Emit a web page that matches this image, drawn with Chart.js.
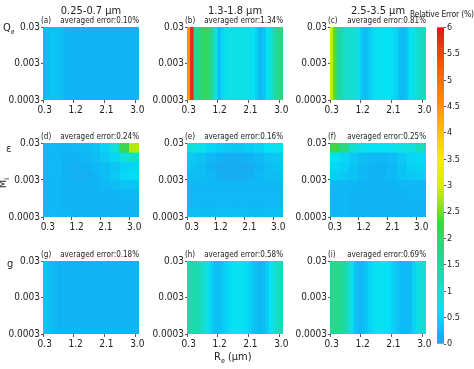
<!DOCTYPE html>
<html>
<head>
<meta charset="utf-8">
<script src="https://cdn.jsdelivr.net/npm/chart.js@4.4.1/dist/chart.umd.min.js"></script>
<style>
  body { margin: 0; background: #fff; }
  #wrap { position: relative; width: 474px; height: 369px; overflow: hidden;
    font-family: "Liberation Sans Narrow", "DejaVu Sans Condensed", sans-serif; color: #222; }
  #wrap canvas { position: absolute; }
  .txt { position: absolute; white-space: nowrap; line-height: 1; }
</style>
</head>
<body>
<div id="wrap"></div>
<script>
// x categories (R_e, um)
const reFine = ["0.3","0.4","0.5","0.6","0.7","0.8","0.9","1.0","1.1","1.2","1.3","1.4","1.5","1.6",
  "1.7","1.8","1.9","2.0","2.1","2.2","2.3","2.4","2.5","2.6","2.7","2.8","2.9","3.0"];
const reCoarse = ["0.3","0.6","0.9","1.2","1.5","1.8","2.1","2.4","2.7","3.0"];
const reTicks = ["0.3", "1.2", "2.1", "3.0"];
const miTicks = [0.0003, 0.003, 0.03];

const bandTitles = ["0.25-0.7 μm", "1.3-1.8 μm", "2.5-3.5 μm"];
const panelLetters = ["(a)", "(b)", "(c)", "(d)", "(e)", "(f)", "(g)", "(h)", "(i)"];
const avgErrors = ["0.10%", "1.34%", "0.81%", "0.24%", "0.16%", "0.25%", "0.18%", "0.58%", "0.69%"];

// relative error (%) grids, rows from top (M_i = 0.03) to bottom (M_i = 0.0003)
const panelA = [[0.2,0.25,0.3,0.3,0.3,0.25,0.18,0.15,0.15,0.15,0.15,0.15,0.15,0.15,
  0.15,0.15,0.15,0.15,0.15,0.15,0.15,0.15,0.15,0.15,0.15,0.15,0.15,0.15]];
const panelB = [[4.5,5.8,1.6,1.7,2.0,2.1,2.0,1.5,0.8,0.25,0.5,0.7,0.8,0.8,
  0.75,0.75,0.8,0.75,0.7,0.6,0.4,0.2,0.3,0.6,0.9,1.3,1.7,1.8]];
const panelC = [[2.9,2.4,1.6,1.3,1.1,1.05,1.0,1.0,0.7,0.3,0.25,0.35,0.5,0.6,
  0.65,0.65,0.6,0.6,0.55,0.45,0.25,0.2,0.3,0.6,0.75,0.95,1.15,1.2]];
const panelD = [
  [0.2,0.2,0.2,0.2,0.25,0.3,0.45,0.9,2.2,2.8],
  [0.2,0.2,0.15,0.15,0.2,0.25,0.35,0.5,0.9,1.1],
  [0.2,0.2,0.15,0.12,0.15,0.2,0.25,0.3,0.45,0.5],
  [0.2,0.2,0.15,0.12,0.12,0.15,0.25,0.35,0.5,0.55],
  [0.18,0.18,0.15,0.15,0.15,0.15,0.2,0.25,0.3,0.3],
  [0.18,0.18,0.15,0.15,0.15,0.15,0.15,0.15,0.18,0.18],
  [0.18,0.18,0.15,0.15,0.15,0.15,0.15,0.15,0.15,0.15],
  [0.2,0.2,0.18,0.15,0.15,0.15,0.15,0.15,0.15,0.15]
];
const panelE = [
  [0.9,0.7,0.5,0.4,0.35,0.35,0.4,0.45,0.6,0.7],
  [0.35,0.3,0.2,0.15,0.12,0.12,0.15,0.2,0.3,0.35],
  [0.3,0.25,0.15,0.1,0.1,0.1,0.1,0.15,0.25,0.3],
  [0.25,0.25,0.2,0.12,0.1,0.1,0.12,0.2,0.25,0.25],
  [0.2,0.2,0.2,0.2,0.2,0.2,0.2,0.2,0.2,0.2],
  [0.2,0.2,0.2,0.2,0.2,0.2,0.2,0.2,0.2,0.2],
  [0.2,0.2,0.2,0.2,0.2,0.2,0.2,0.2,0.2,0.2],
  [0.25,0.25,0.25,0.25,0.25,0.25,0.25,0.25,0.25,0.25]
];
const panelF = [
  [2.2,1.8,1.0,0.7,0.6,0.6,0.7,0.8,0.9,1.2],
  [0.6,0.5,0.35,0.25,0.2,0.2,0.25,0.35,0.5,0.55],
  [0.5,0.45,0.3,0.2,0.15,0.15,0.2,0.3,0.45,0.5],
  [0.4,0.35,0.3,0.2,0.15,0.15,0.2,0.3,0.35,0.4],
  [0.2,0.2,0.18,0.15,0.15,0.15,0.15,0.18,0.2,0.2],
  [0.18,0.18,0.15,0.15,0.15,0.15,0.15,0.15,0.18,0.18],
  [0.18,0.18,0.15,0.15,0.15,0.15,0.15,0.15,0.15,0.15],
  [0.18,0.18,0.15,0.15,0.15,0.15,0.15,0.15,0.15,0.15]
];
const panelG = [[0.3,0.3,0.25,0.2,0.15,0.15,0.15,0.15,0.15,0.15,0.15,0.15,0.15,0.15,
  0.15,0.15,0.15,0.15,0.15,0.15,0.15,0.15,0.15,0.15,0.15,0.15,0.15,0.15]];
const panelH = [[1.3,1.4,1.4,1.3,1.1,0.9,0.7,0.4,0.25,0.25,0.35,0.45,0.55,0.6,
  0.65,0.65,0.6,0.55,0.45,0.3,0.25,0.2,0.25,0.4,0.6,0.9,1.2,1.25]];
const panelI = [[1.6,1.7,1.7,1.6,1.4,1.1,0.7,0.3,0.2,0.2,0.3,0.45,0.55,0.6,
  0.65,0.65,0.6,0.55,0.45,0.35,0.25,0.2,0.2,0.25,0.45,0.75,0.95,1.0]];

const panels = [panelA, panelB, panelC, panelD, panelE, panelF, panelG, panelH, panelI];

// colour map for the relative error scale
const cmapStops = [
  [0.0, [40,160,230]], [0.15, [15,180,245]], [0.6, [5,225,245]], [1.0, [20,222,210]],
  [1.5, [30,216,160]], [2.0, [45,215,110]], [2.3, [60,215,60]], [2.6, [140,225,30]],
  [3.0, [215,240,0]], [3.5, [250,235,0]], [4.0, [250,195,0]], [4.5, [250,150,0]],
  [5.0, [248,110,10]], [5.5, [240,65,20]], [6.0, [230,25,25]]
];
function colorFor(v) {
  if (v <= cmapStops[0][0]) return "rgb(" + cmapStops[0][1].join(",") + ")";
  for (let i = 1; i < cmapStops.length; i++) {
    const [v1, c1] = cmapStops[i];
    const [v0, c0] = cmapStops[i - 1];
    if (v <= v1) {
      const t = (v - v0) / (v1 - v0);
      const c = c0.map((x, k) => Math.round(x + (c1[k] - x) * t));
      return "rgb(" + c.join(",") + ")";
    }
  }
  return "rgb(" + cmapStops[cmapStops.length - 1][1].join(",") + ")";
}

const logTop = Math.log10(0.03);
const logBottom = Math.log10(0.0003);
const colLeft = [43, 187, 330];
const colRight = [139, 283, 426];
const rowTop = [26, 142, 260];
const rowBottom = [100, 217, 334];
const tickFont = { family: "'Liberation Sans Narrow', 'DejaVu Sans Condensed', sans-serif", size: 10 };

const wrap = document.getElementById("wrap");

function addText(str, x, y, size, extra) {
  const d = document.createElement("div");
  d.className = "txt";
  d.innerHTML = str;
  d.style.left = x + "px";
  d.style.top = y + "px";
  d.style.fontSize = size + "px";
  if (extra) Object.assign(d.style, extra);
  wrap.appendChild(d);
  return d;
}

function makeCanvas(left, top, w, h) {
  const c = document.createElement("canvas");
  c.width = w; c.height = h;
  c.style.left = left + "px"; c.style.top = top + "px";
  c.style.width = w + "px"; c.style.height = h + "px";
  wrap.appendChild(c);
  return c;
}

panels.forEach(function (grid, p) {
  const r = Math.floor(p / 3), c = p % 3;
  const yAxisW = 43, padTop = 6, padRight = 10, xAxisH = 16;
  const areaW = colRight[c] - colLeft[c];
  const areaH = rowBottom[r] - rowTop[r];
  const canvas = makeCanvas(colLeft[c] - yAxisW, rowTop[r] - padTop,
    areaW + yAxisW + padRight, areaH + padTop + xAxisH);

  const labels = grid[0].length === reFine.length ? reFine : reCoarse;
  const step = (logTop - logBottom) / grid.length;
  const datasets = grid.map(function (row, i) {
    const hi = logTop - i * step;
    const lo = hi - step;
    return {
      data: row.map(() => [lo, hi]),
      backgroundColor: row.map(colorFor),
      borderWidth: 0,
      barPercentage: 1,
      categoryPercentage: 1,
      grouped: false
    };
  });

  new Chart(canvas.getContext("2d"), {
    type: "bar",
    data: { labels: labels, datasets: datasets },
    options: {
      responsive: false,
      animation: false,
      layout: { padding: { top: padTop, right: padRight, left: 0, bottom: 0 } },
      plugins: { legend: { display: false }, tooltip: { enabled: false } },
      scales: {
        x: {
          grid: {
            display: true, drawOnChartArea: false, tickLength: 3,
            color: function (ctx) {
              return ctx.tick && reTicks.includes(labels[ctx.index]) ? "#555" : "rgba(0,0,0,0)";
            }
          },
          border: { display: false },
          ticks: {
            autoSkip: false, maxRotation: 0, padding: 1, color: "#222", font: tickFont,
            callback: function (v, i) { return reTicks.includes(labels[i]) ? labels[i] : ""; }
          },
          afterFit: function (s) { s.height = xAxisH; }
        },
        y: {
          min: logBottom, max: logTop,
          grid: { display: true, drawOnChartArea: false, tickLength: 2, color: "#555" },
          border: { display: false },
          afterBuildTicks: function (s) { s.ticks = miTicks.map(v => ({ value: Math.log10(v) })); },
          ticks: {
            padding: 1, color: "#222", font: tickFont,
            callback: function (v) { return String(parseFloat(Math.pow(10, v).toPrecision(1))); }
          },
          afterFit: function (s) { s.width = yAxisW; }
        }
      }
    }
  });

  // panel annotations
  addText(panelLetters[p], colLeft[c] - 2, rowTop[r] - 9, 8);
  const e = addText("averaged error:" + avgErrors[p], 0, rowTop[r] - 9, 8);
  e.style.left = "auto";
  e.style.right = (474 - colRight[c]) + "px";
});

// column titles
bandTitles.forEach(function (t, c) {
  const d = addText(t, 0, 5, 11);
  d.style.width = "140px";
  d.style.textAlign = "center";
  d.style.left = ((colLeft[c] + colRight[c]) / 2 - 70) + "px";
});

// row labels
addText("Q<sub style='font-size:7px'>e</sub>", 3, 22, 11);
addText("ε", 6, 143, 11);
addText("g", 7, 258, 11);
addText("M<sub style='font-size:7px'>i</sub>", -1, 176, 11, { transform: "rotate(-90deg)" });
addText("R<sub style='font-size:7px'>e</sub> (μm)", 214, 351, 11);

// colour bar
const cbLevels = [];
for (let v = 0; v < 6; v += 0.05) cbLevels.push(v);
const cbCanvas = makeCanvas(437, 21, 37, 330);
new Chart(cbCanvas.getContext("2d"), {
  type: "bar",
  data: {
    labels: [""],
    datasets: cbLevels.map(v => ({
      data: [[v, v + 0.05]],
      backgroundColor: colorFor(v + 0.025),
      borderWidth: 0, barPercentage: 1, categoryPercentage: 1, grouped: false
    }))
  },
  options: {
    responsive: false,
    animation: false,
    layout: { padding: { top: 6, bottom: 7, left: 0, right: 0 } },
    plugins: { legend: { display: false }, tooltip: { enabled: false } },
    scales: {
      x: { display: false },
      y: {
        position: "right", min: 0, max: 6,
        grid: { display: true, drawOnChartArea: false, tickLength: 2, color: "#555" },
        border: { display: false },
        ticks: {
          stepSize: 0.5, padding: 1, color: "#222", font: { family: tickFont.family, size: 9 },
          callback: function (v) { return String(Math.round(v * 10) / 10); }
        },
        afterFit: function (s) { s.width = 30; }
      }
    }
  }
});
addText("Relative Error (%)", 410, 10, 8.5, { letterSpacing: "-0.2px" });
</script>
</body>
</html>
